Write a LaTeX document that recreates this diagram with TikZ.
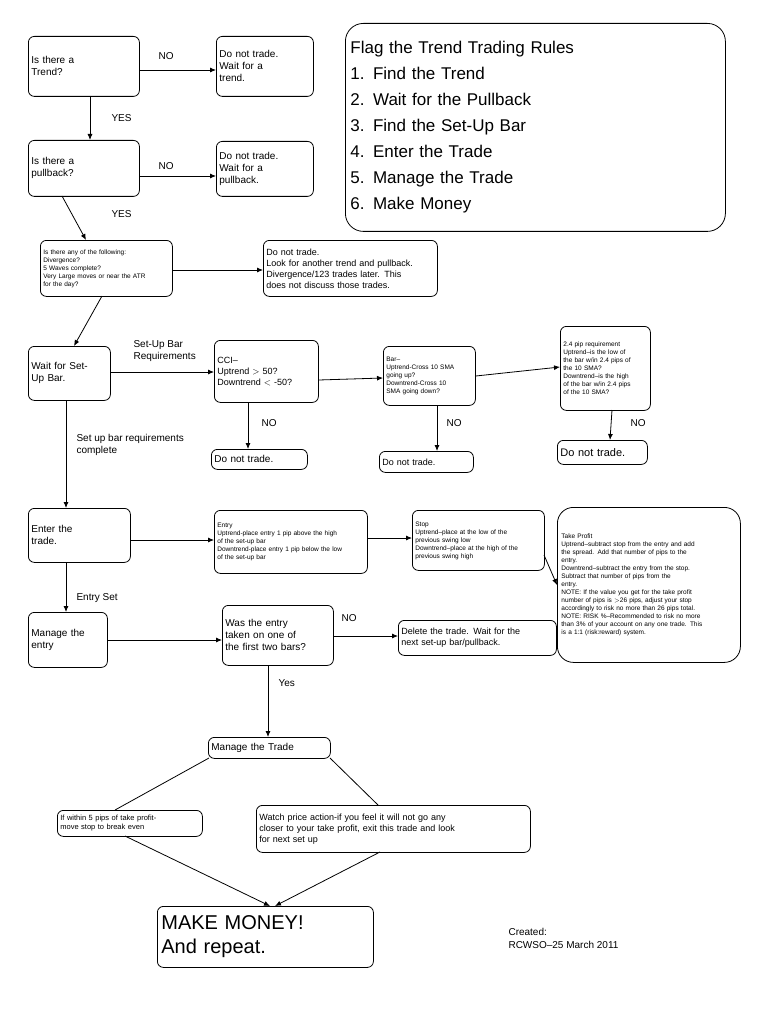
\documentclass[tikz,border=0pt]{standalone}
\usepackage{fontspec}
\setmainfont{Liberation Sans}
\usetikzlibrary{arrows.meta}
\tikzset{
  box/.style={draw,thick,rounded corners=6pt,anchor=north west,inner sep=3pt,align=left},
  fa/.style={font=\fontsize{6.5}{8}\selectfont},
  fb/.style={font=\fontsize{7.5}{9}\selectfont},
  fc/.style={font=\fontsize{9}{11}\selectfont},
  fd/.style={font=\fontsize{10}{12}\selectfont},
  fe/.style={font=\fontsize{11}{13}\selectfont},
  ar/.style={-{Latex[length=6pt,width=5pt]},thick},
  ln/.style={thick},
  lb/.style={font=\fontsize{10}{12}\selectfont,align=left,anchor=west}}
\begin{document}
\begin{tikzpicture}[x=1pt,y=-1pt]
\useasboundingbox (0,0) rectangle (768,1024);
\node[draw,thick,rounded corners=18pt,anchor=north west,minimum width=380pt,minimum height=208pt,text width=370pt,align=left,font=\fontsize{17}{26}\selectfont] (title) at (345,23) {Flag the Trend Trading Rules\\1. Find the Trend\\2. Wait for the Pullback\\3. Find the Set-Up Bar\\4. Enter the Trade\\5. Manage the Trade\\6. Make Money};
\node[box,fd,minimum width=111pt,minimum height=60pt,text width=105pt] (trend) at (28,36) {Is there a\\Trend?};
\node[box,fd,minimum width=97pt,minimum height=60pt,text width=91pt] (d1) at (216,36) {Do not trade.\\Wait for a\\trend.};
\node[box,fd,minimum width=111pt,minimum height=56pt,text width=105pt] (pb) at (28,140) {Is there a\\pullback?};
\node[box,fd,minimum width=97pt,minimum height=55pt,text width=91pt] (d2) at (216,141) {Do not trade.\\Wait for a\\pullback.};
\node[box,fa,minimum width=132pt,minimum height=56pt,text width=126pt] (any) at (40,240) {Is there any of the following:\\Divergence?\\5 Waves complete?\\Very Large moves or near the ATR\\for the day?};
\node[box,fc,minimum width=174pt,minimum height=56pt,text width=168pt] (d3) at (263,240) {Do not trade.\\Look for another trend and pullback.\\Divergence/123 trades later.  This\\does not discuss those trades.};
\node[box,fd,minimum width=82pt,minimum height=54pt,text width=76pt] (wait) at (28,346) {Wait for Set-\\Up Bar.};
\node[box,fc,minimum width=104pt,minimum height=62pt,text width=98pt] (cci) at (214,340) {CCI--\\Uptrend $>$ 50?\\Downtrend $<$ -50?};
\node[box,fa,minimum width=92pt,minimum height=59pt,text width=86pt] (bar) at (383,346) {Bar--\\Uptrend-Cross 10 SMA\\going up?\\Downtrend-Cross 10\\SMA going down?};
\node[box,fa,minimum width=90pt,minimum height=84pt,text width=84pt] (pip) at (560,326) {2.4 pip requirement\\Uptrend--is the low of\\the bar w/in 2.4 pips of\\the 10 SMA?\\Downtrend--is the high\\of the bar w/in 2.4 pips\\of the 10 SMA?};
\node[box,fd,minimum width=96pt,minimum height=20pt,text width=90pt] (n1) at (211,449) {Do not trade.};
\node[box,fc,minimum width=94pt,minimum height=21pt,text width=88pt] (n2) at (379,451) {Do not trade.};
\node[box,fe,minimum width=90pt,minimum height=24pt,text width=84pt] (n3) at (557,440) {Do not trade.};
\node[box,fd,minimum width=102pt,minimum height=54pt,text width=96pt] (enter) at (28,508) {Enter the\\trade.};
\node[box,fa,minimum width=153pt,minimum height=63pt,text width=147pt] (entry) at (214,510) {Entry\\Uptrend-place entry 1 pip above the high\\of the set-up bar\\Downtrend-place entry 1 pip below the low\\of the set-up bar};
\node[box,fa,minimum width=132pt,minimum height=60pt,text width=126pt] (stop) at (412,510) {Stop\\Uptrend--place at the low of the\\previous swing low\\Downtrend--place at the high of the\\previous swing high};
\node[box,fa,rounded corners=16pt,minimum width=183pt,minimum height=155pt,text width=175pt] (tp) at (557,507) {Take Profit\\Uptrend--subtract stop from the entry and add\\the spread.  Add that number of pips to the\\entry.\\Downtrend--subtract the entry from the stop.\\Subtract that number of pips from the\\entry.\\NOTE:  If the value you get for the take profit\\number of pips is $>$26 pips, adjust your stop\\accordingly  to risk no more than 26 pips total.\\NOTE:  RISK \%--Recommended to risk no more\\than 3\% of your account on any one trade.  This\\is a 1:1 (risk:reward) system.};
\node[box,fd,minimum width=79pt,minimum height=55pt,text width=73pt] (me) at (28,612) {Manage the\\entry};
\node[box,fd,minimum width=111pt,minimum height=60pt,text width=105pt] (was) at (222,605) {Was the entry\\taken on one of\\the first two bars?};
\node[box,fc,minimum width=158pt,minimum height=35pt,text width=152pt] (del) at (398,620) {Delete the trade.  Wait for the\\next set-up bar/pullback.};
\node[box,fd,minimum width=122pt,minimum height=21pt,text width=116pt] (mt) at (208,737) {Manage the Trade};
\node[box,fb,minimum width=145pt,minimum height=26pt,text width=139pt] (lf) at (57,810) {If within 5 pips of take profit-\\move stop to break even};
\node[box,fc,minimum width=274pt,minimum height=47pt,text width=268pt] (rt) at (256,805) {Watch price action-if you feel it will not go any\\closer to your take profit, exit this trade and look\\for next set up};
\node[box,minimum width=216pt,minimum height=61pt,text width=208pt,font=\fontsize{20}{24}\selectfont] (mm) at (157,906) {MAKE MONEY!\\And repeat.};
\node[lb,font=\fontsize{10}{13}\selectfont] (cr) at (505,938) {Created:\\RCWSO--25 March 2011};
\node[lb] (l1) at (155,56) {NO};
\node[lb] (l2) at (108,118) {YES};
\node[lb] (l3) at (155,166) {NO};
\node[lb] (l4) at (108,214) {YES};
\node[lb] (l5) at (130,351) {Set-Up Bar\\Requirements};
\node[lb] (l6) at (258,423) {NO};
\node[lb] (l7) at (443,423) {NO};
\node[lb] (l8) at (627,423) {NO};
\node[lb] (l9) at (73,445) {Set up bar requirements\\complete};
\node[lb] (l10) at (73,598) {Entry Set};
\node[lb] (l11) at (338,618) {NO};
\node[lb] (l12) at (275,683) {Yes};
\draw[ar] (trend.east|-0,70) -- (d1.west|-0,70);
\draw[ar] (90,96) -- (90,140);
\draw[ar] (pb.east|-0,176) -- (d2.west|-0,176);
\draw[ar] (62,196) -- (86,240);
\draw[ar] (any.east|-0,270) -- (d3.west|-0,270);
\draw[ar] (102,296) -- (74,346);
\draw[ar] (wait.east|-0,372) -- (cci.west|-0,372);
\draw[ar] (cci.east|-0,380) -- (bar.west|-0,378);
\draw[ar] (bar.east|-0,376) -- (pip.west|-0,367);
\draw[ar] (248,402) -- (248,449);
\draw[ar] (437,405) -- (437,451);
\draw[ar] (612,410) -- (610,440);
\draw[ar] (66,400) -- (66,508);
\draw[ar] (enter.east|-0,540) -- (entry.west|-0,540);
\draw[ar] (entry.east|-0,538) -- (stop.west|-0,538);
\draw[ar] (544,555) -- (tp.west|-0,585);
\draw[ar] (66,562) -- (66,612);
\draw[ar] (me.east|-0,640) -- (was.west|-0,640);
\draw[ar] (was.east|-0,636) -- (del.west|-0,636);
\draw[ar] (268,665) -- (268,737);
\draw[ln] (209,758) -- (115,810);
\draw[ln] (330,758) -- (378,805);
\draw[ar] (125,836) -- (270,906);
\draw[ar] (380,852) -- (275,906);
\end{tikzpicture}
\end{document}
